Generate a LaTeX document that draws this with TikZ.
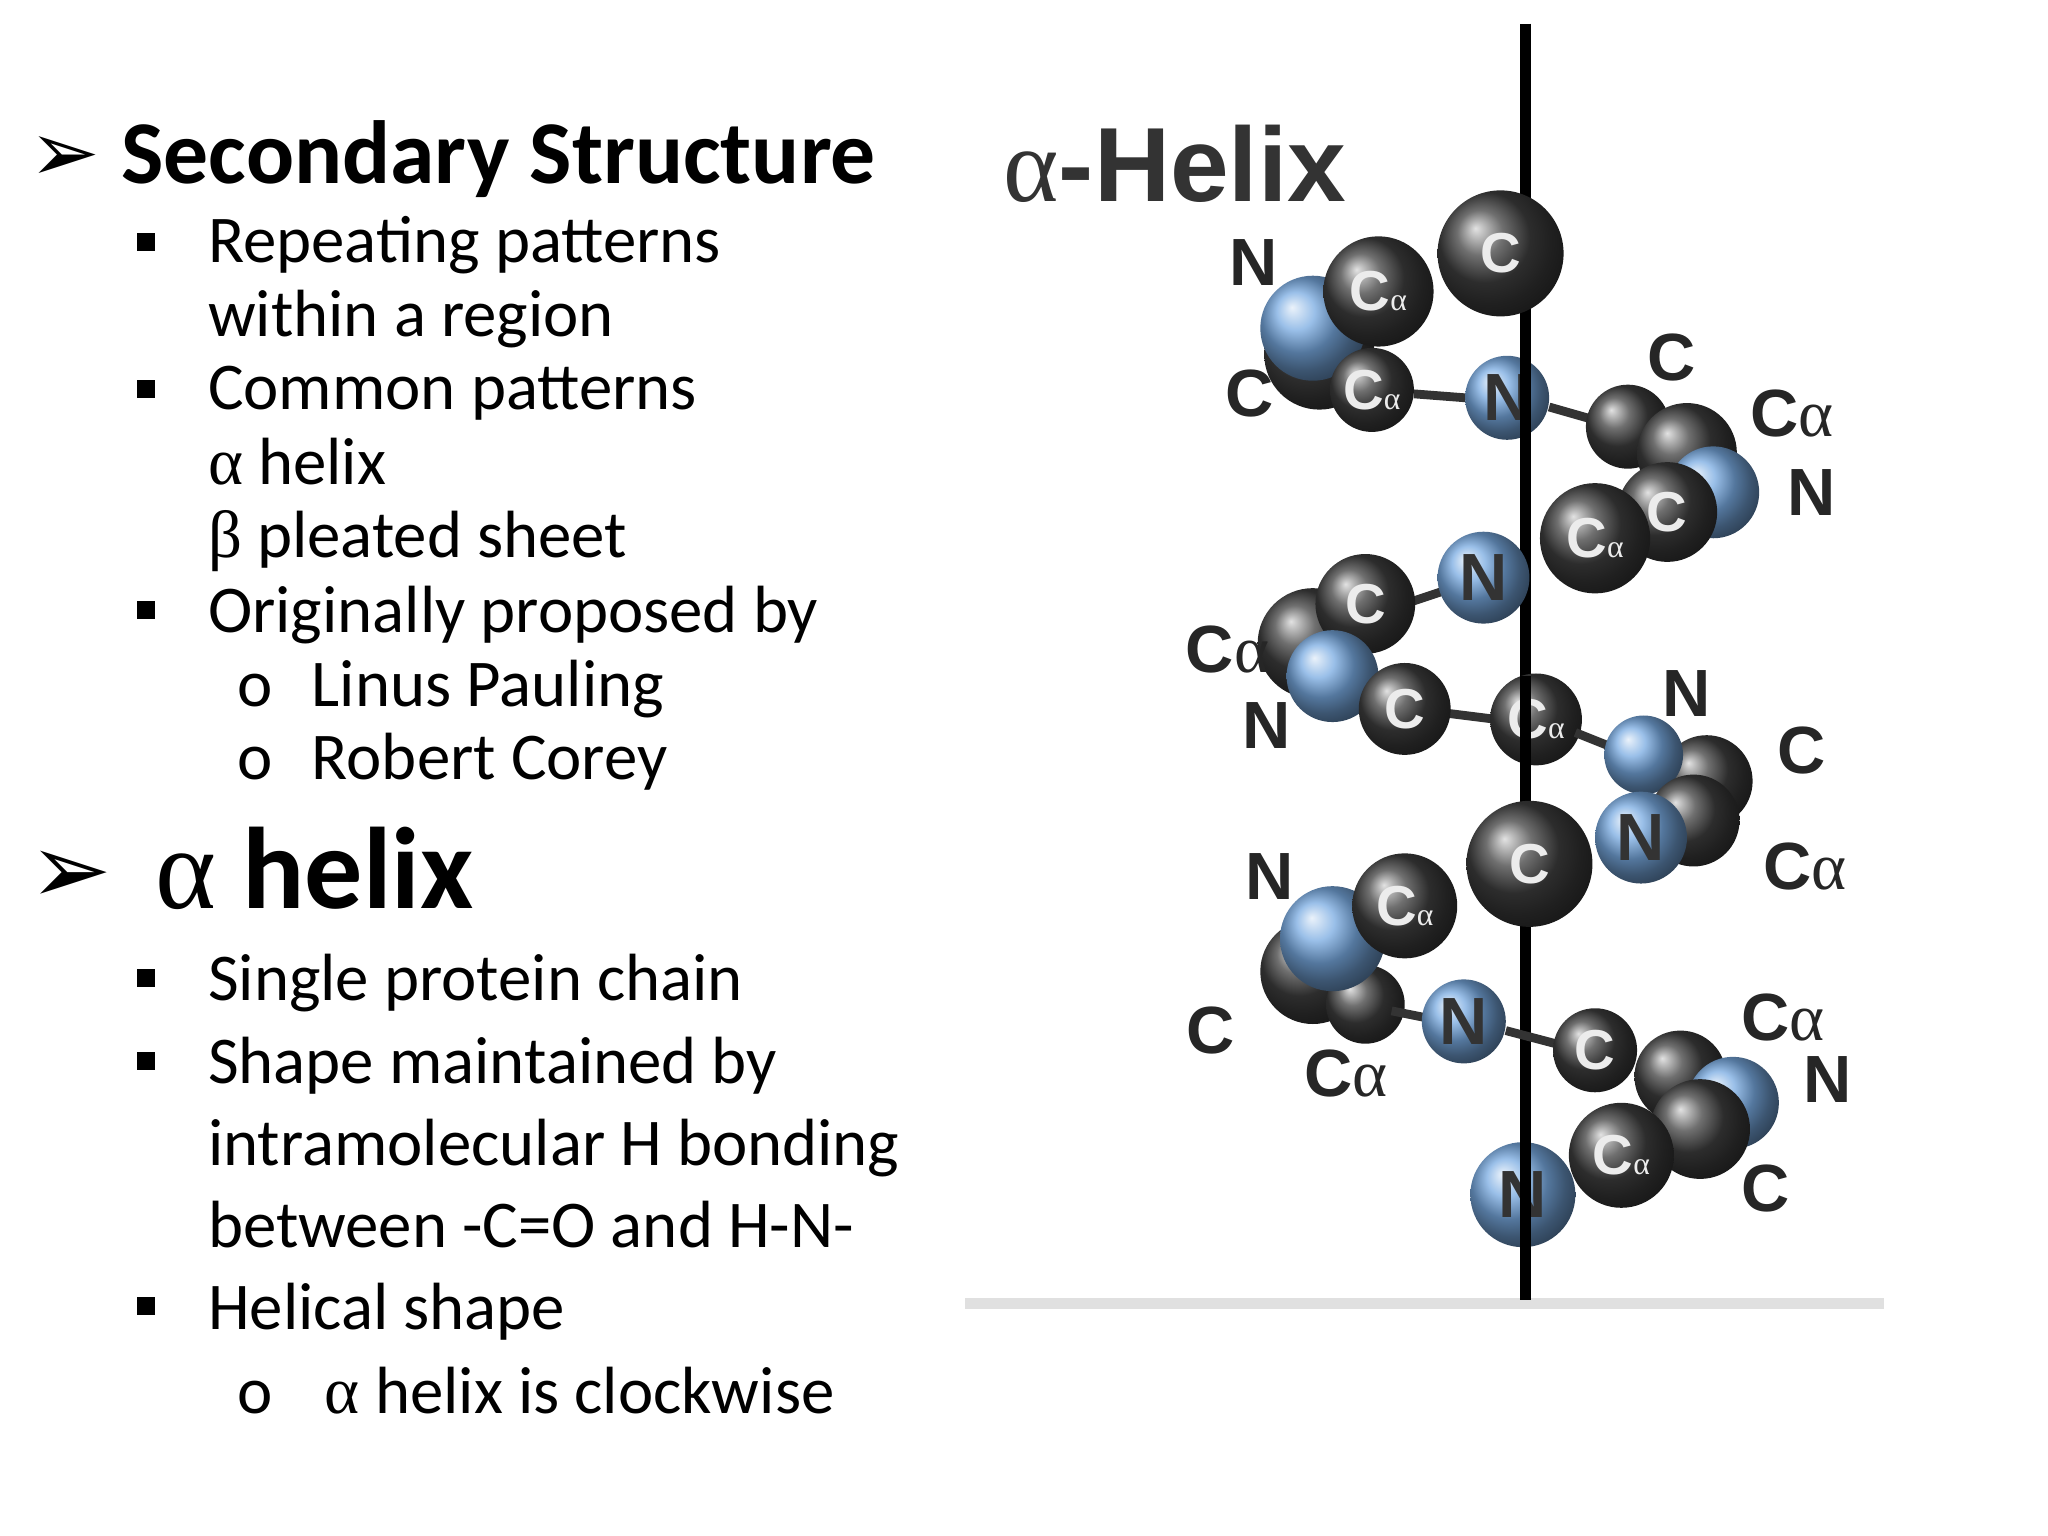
\documentclass[tikz,border=0pt]{standalone}
\usepackage{fontspec}
\setmainfont{Carlito}
\newfontfamily\djvfont{DejaVu Sans}
\newfontfamily\symfont{Liberation Serif}
\newfontfamily\hvfont{Liberation Sans}
\newcommand\grk[1]{{\symfont\mdseries #1}}
\begin{document}
\begin{tikzpicture}[x=0.013128cm,y=-0.013128cm,
 body/.style={anchor=base west,inner sep=0,font=\fontsize{19}{20}\selectfont},
 head/.style={anchor=base west,inner sep=0,font=\fontsize{25.5}{27}\selectfont\bfseries},
 sq/.style={fill=black,minimum size=0.18cm,inner sep=0},
 ci/.style={anchor=base west,inner sep=0,font=\fontsize{19}{20}\selectfont},
 d/.style={minimum size=#1*0.013128cm},
 blk/.style={circle,shading=ball,ball color=black!75,inner sep=0},
 blu/.style={circle,shading=ball,ball color={rgb,255:red,120;green,170;blue,225},inner sep=0},
 lab/.style={font=\hvfont\bfseries\fontsize{19}{20}\selectfont,inner sep=0,text=black!85},
 inw/.style={font=\hvfont\bfseries\fontsize{16}{17}\selectfont,text=white!85!gray},
 inb/.style={font=\hvfont\bfseries\fontsize{19}{20}\selectfont,text=black!80},
 bond/.style={line width=2.5pt,black!80}]
\useasboundingbox (0,0) rectangle (1560,1170);
% left text
\node[anchor=base west,inner sep=0,font=\djvfont\bfseries\fontsize{24}{26}\selectfont] (a1) at (22,138) {➢};
\node[head] (h1) at (92,140) {Secondary Structure};
\node[sq] (b1) at (111,184) {};
\node[body] (t1) at (158,200) {Repeating patterns};
\node[body] (t2) at (158,256) {within a region};
\node[sq] (b2) at (111,296) {};
\node[body] (t3) at (158,312) {Common patterns};
\node[body] (t4) at (158,369) {\grk{α} helix};
\node[body] (t5) at (158,425) {\grk{β} pleated sheet};
\node[sq] (b3) at (111,465) {};
\node[body] (t6) at (158,482) {Originally proposed by};
\node[ci] (o1) at (180,538) {o};
\node[body] (t7) at (237,538) {Linus Pauling};
\node[ci] (o2) at (180,594) {o};
\node[body] (t8) at (237,594) {Robert Corey};
\node[anchor=base west,inner sep=0,font=\djvfont\bfseries\fontsize{28}{30}\selectfont] (a2) at (22,688) {➢};
\node[anchor=base west,inner sep=0,font=\fontsize{33}{35}\selectfont\bfseries] (h2) at (118,692) {\grk{α} helix};
\node[sq] (b4) at (111,745) {};
\node[body] (t9) at (158,762) {Single protein chain};
\node[sq] (b5) at (111,808) {};
\node[body] (t10) at (158,825) {Shape maintained by};
\node[body] (t11) at (158,888) {intramolecular H bonding};
\node[body] (t12) at (158,950) {between -C=O and H-N-};
\node[sq] (b6) at (111,995) {};
\node[body] (t13) at (158,1013) {Helical shape};
\node[ci] (o3) at (180,1077) {o};
\node[body] (t14) at (247,1077) {\grk{α} helix is clockwise};
% right image
\coordinate (lt) at (1162,18); \coordinate (lb) at (1162,990);
\draw[line width=3pt] (lt) -- (lb);
\coordinate (g1) at (735,993); \coordinate (g2) at (1435,993);
\draw[line width=3pt,black!12] (g1) -- (g2);
\node[font=\hvfont\bfseries\fontsize{30}{32}\selectfont,inner sep=0,text=black!80] (ttl) at (895,125) {\grk{α}-Helix};
% atoms back to front
\node[blk,d=84] (a04) at (1005,270) {};
\node[blu,d=80] (a03) at (1000,250) {};
\node[blk,inw,d=84] (a02) at (1050,222) {C{\small\grk{α}}};
\node[blk,inw,d=96] (a01) at (1143,193) {C};
\node[blk,inw,d=64] (a05) at (1045,297) {C{\small\grk{α}}};
\draw[bond] (1077,300) -- (1116,303);
\node[blu,inb,d=64] (a06) at (1148,303) {N};
\draw[bond] (1180,310) -- (1215,320);
\node[blk,d=64] (a07) at (1240,325) {};
\node[blk,d=76] (a08) at (1285,345) {};
\node[blu,d=70] (a09) at (1305,375) {};
\node[blk,inw,d=76] (a10) at (1270,390) {C};
\node[blk,inw,d=84] (a11) at (1215,410) {C{\small\grk{α}}};
\draw[bond] (1100,450) -- (1070,460);
\node[blu,inb,d=70] (a12) at (1130,440) {N};
\node[blk,d=84] (a14) at (1000,490) {};
\node[blk,inw,d=76] (a13) at (1040,460) {C};
\node[blu,d=70] (a15) at (1015,515) {};
\draw[bond] (1100,543) -- (1140,548);
\node[blk,inw,d=70] (a16) at (1070,540) {C};
\node[blk,inw,d=70] (a17) at (1170,548) {C{\small\grk{α}}};
\draw[bond] (1200,558) -- (1230,570);
\node[blk,d=70] (a19) at (1300,595) {};
\node[blu,d=60] (a18) at (1252,575) {};
\node[blk,d=70] (a20) at (1290,625) {};
\node[blu,inb,d=70] (a21) at (1250,638) {N};
\node[blk,inw,d=96] (a22) at (1165,658) {C};
\node[blk,d=80] (a25) at (1000,740) {};
\node[blk,d=60] (a26) at (1040,765) {};
\node[blu,d=80] (a24) at (1015,715) {};
\node[blk,inw,d=80] (a23) at (1070,690) {C{\small\grk{α}}};
\draw[bond] (1060,770) -- (1085,775);
\node[blu,inb,d=64] (a27) at (1115,778) {N};
\draw[bond] (1147,785) -- (1185,795);
\node[blk,inw,d=64] (a28) at (1215,800) {C};
\node[blk,d=70] (a29) at (1280,820) {};
\node[blu,d=70] (a30) at (1320,840) {};
\node[blk,d=76] (a31) at (1295,860) {};
\node[blk,inw,d=80] (a32) at (1235,880) {C{\small\grk{α}}};
\node[blu,inb,d=80] (a33) at (1160,910) {N};
\draw[line width=3pt] (1162,270) -- (1162,340) (1162,515) -- (1162,585) (1162,870) -- (1162,990);
% labels
\node[lab] (l1) at (955,200) {N};
\node[lab] (l2) at (952,300) {C};
\node[lab] (l3) at (1273,272) {C};
\node[lab] (l4) at (1365,315) {C\grk{α}};
\node[lab] (l5) at (1380,375) {N};
\node[lab] (l6) at (935,495) {C\grk{α}};
\node[lab] (l7) at (965,553) {N};
\node[lab] (l8) at (1285,528) {N};
\node[lab] (l9) at (1372,572) {C};
\node[lab] (l10) at (1375,660) {C\grk{α}};
\node[lab] (l11) at (967,668) {N};
\node[lab] (l12) at (922,785) {C};
\node[lab] (l13) at (1025,818) {C\grk{α}};
\node[lab] (l14) at (1358,775) {C\grk{α}};
\node[lab] (l15) at (1392,822) {N};
\node[lab] (l16) at (1345,905) {C};
\end{tikzpicture}
\end{document}
